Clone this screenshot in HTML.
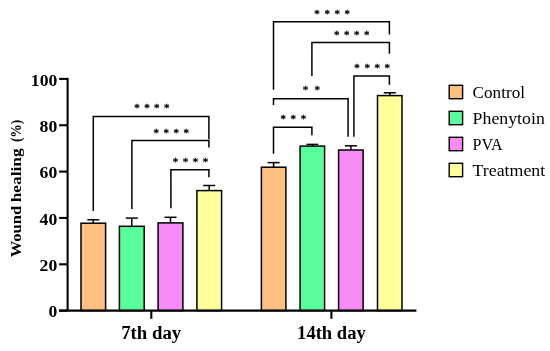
<!DOCTYPE html>
<html><head><meta charset="utf-8"><title>Wound healing</title>
<style>html,body{margin:0;padding:0;background:#fff}svg text{font-family:"Liberation Serif", "DejaVu Serif", serif;fill:#000}</style>
</head><body>
<svg width="550" height="351" viewBox="0 0 550 351" style="display:block">
<rect width="550" height="351" fill="#fff"/>
<line x1="93.3" y1="223.2" x2="93.3" y2="219.8" stroke="#000" stroke-width="1.5"/>
<line x1="87.3" y1="219.8" x2="99.3" y2="219.8" stroke="#000" stroke-width="1.5"/>
<rect x="81.0" y="223.2" width="24.6" height="87.4" fill="#FFC080" stroke="#000" stroke-width="1.5"/>
<line x1="131.8" y1="226.3" x2="131.8" y2="218.1" stroke="#000" stroke-width="1.5"/>
<line x1="125.8" y1="218.1" x2="137.8" y2="218.1" stroke="#000" stroke-width="1.5"/>
<rect x="119.4" y="226.3" width="24.8" height="84.3" fill="#58FE9B" stroke="#000" stroke-width="1.5"/>
<line x1="170.5" y1="222.9" x2="170.5" y2="217.3" stroke="#000" stroke-width="1.5"/>
<line x1="164.5" y1="217.3" x2="176.5" y2="217.3" stroke="#000" stroke-width="1.5"/>
<rect x="158.1" y="222.9" width="24.8" height="87.7" fill="#F78CF9" stroke="#000" stroke-width="1.5"/>
<line x1="209.2" y1="190.6" x2="209.2" y2="185.5" stroke="#000" stroke-width="1.5"/>
<line x1="203.2" y1="185.5" x2="215.2" y2="185.5" stroke="#000" stroke-width="1.5"/>
<rect x="196.9" y="190.6" width="24.7" height="120.0" fill="#FFFF9C" stroke="#000" stroke-width="1.5"/>
<line x1="273.6" y1="167.2" x2="273.6" y2="162.6" stroke="#000" stroke-width="1.5"/>
<line x1="267.6" y1="162.6" x2="279.6" y2="162.6" stroke="#000" stroke-width="1.5"/>
<rect x="261.4" y="167.2" width="24.5" height="143.4" fill="#FFC080" stroke="#000" stroke-width="1.5"/>
<line x1="312.4" y1="146.1" x2="312.4" y2="144.4" stroke="#000" stroke-width="1.5"/>
<line x1="306.4" y1="144.4" x2="318.4" y2="144.4" stroke="#000" stroke-width="1.5"/>
<rect x="300.1" y="146.1" width="24.5" height="164.5" fill="#58FE9B" stroke="#000" stroke-width="1.5"/>
<line x1="350.9" y1="150.0" x2="350.9" y2="145.8" stroke="#000" stroke-width="1.5"/>
<line x1="344.9" y1="145.8" x2="356.9" y2="145.8" stroke="#000" stroke-width="1.5"/>
<rect x="338.6" y="150.0" width="24.5" height="160.6" fill="#F78CF9" stroke="#000" stroke-width="1.5"/>
<line x1="389.8" y1="95.6" x2="389.8" y2="92.8" stroke="#000" stroke-width="1.5"/>
<line x1="383.8" y1="92.8" x2="395.8" y2="92.8" stroke="#000" stroke-width="1.5"/>
<rect x="377.5" y="95.6" width="24.5" height="215.0" fill="#FFFF9C" stroke="#000" stroke-width="1.5"/>
<line x1="67.6" y1="77.85" x2="67.6" y2="310.65" stroke="#000" stroke-width="2.1"/>
<line x1="59.1" y1="310.65" x2="416.4" y2="310.65" stroke="#000" stroke-width="2.3"/>
<line x1="59.1" y1="310.65" x2="67.6" y2="310.65" stroke="#000" stroke-width="2.1"/>
<text x="57.3" y="317.4" text-anchor="end" font-size="16.8" font-weight="bold" textLength="8.8" lengthAdjust="spacingAndGlyphs">0</text>
<line x1="59.1" y1="264.30" x2="67.6" y2="264.30" stroke="#000" stroke-width="2.1"/>
<text x="57.3" y="271.1" text-anchor="end" font-size="16.8" font-weight="bold" textLength="17.7" lengthAdjust="spacingAndGlyphs">20</text>
<line x1="59.1" y1="217.95" x2="67.6" y2="217.95" stroke="#000" stroke-width="2.1"/>
<text x="57.3" y="224.8" text-anchor="end" font-size="16.8" font-weight="bold" textLength="17.7" lengthAdjust="spacingAndGlyphs">40</text>
<line x1="59.1" y1="171.60" x2="67.6" y2="171.60" stroke="#000" stroke-width="2.1"/>
<text x="57.3" y="178.4" text-anchor="end" font-size="16.8" font-weight="bold" textLength="17.7" lengthAdjust="spacingAndGlyphs">60</text>
<line x1="59.1" y1="125.25" x2="67.6" y2="125.25" stroke="#000" stroke-width="2.1"/>
<text x="57.3" y="132.1" text-anchor="end" font-size="16.8" font-weight="bold" textLength="17.7" lengthAdjust="spacingAndGlyphs">80</text>
<line x1="59.1" y1="78.90" x2="67.6" y2="78.90" stroke="#000" stroke-width="2.1"/>
<text x="57.3" y="85.7" text-anchor="end" font-size="16.8" font-weight="bold" textLength="26.5" lengthAdjust="spacingAndGlyphs">100</text>
<line x1="151.3" y1="310.65" x2="151.3" y2="318.84999999999997" stroke="#000" stroke-width="2.1"/>
<line x1="331.4" y1="310.65" x2="331.4" y2="318.84999999999997" stroke="#000" stroke-width="2.1"/>
<text x="151.2" y="338.7" text-anchor="middle" font-size="18" font-weight="bold" textLength="60" lengthAdjust="spacingAndGlyphs">7th day</text>
<text x="331.4" y="338.7" text-anchor="middle" font-size="18" font-weight="bold" textLength="68.6" lengthAdjust="spacingAndGlyphs">14th day</text>
<text transform="translate(21.4,257.3) rotate(-90)" font-size="15.5" font-weight="bold"><tspan x="0" textLength="51.5" lengthAdjust="spacingAndGlyphs">Wound</tspan> <tspan x="55" textLength="54" lengthAdjust="spacingAndGlyphs">healing</tspan> <tspan x="115.2" textLength="22.4" lengthAdjust="spacingAndGlyphs">(%)</tspan></text>
<polyline points="93.3,211 93.3,116.6 208.9,116.6 208.9,139.3" fill="none" stroke="#000" stroke-width="1.5" stroke-linejoin="miter"/>
<polyline points="131.9,209.0 131.9,140.6 208.9,140.6 208.9,147.6" fill="none" stroke="#000" stroke-width="1.5" stroke-linejoin="miter"/>
<polyline points="170.9,208.2 170.9,169.8 208.9,169.8 208.9,177.2" fill="none" stroke="#000" stroke-width="1.5" stroke-linejoin="miter"/>
<polyline points="273.5,89.8 273.5,21.8 389.4,21.8 389.4,34.4" fill="none" stroke="#000" stroke-width="1.5" stroke-linejoin="miter"/>
<polyline points="311.9,75.9 311.9,42.4 389.4,42.4 389.4,53.8" fill="none" stroke="#000" stroke-width="1.5" stroke-linejoin="miter"/>
<polyline points="353.9,136.7 353.9,76.0 389.4,76.0 389.4,84.8" fill="none" stroke="#000" stroke-width="1.5" stroke-linejoin="miter"/>
<polyline points="273.5,105.1 273.5,98.8 348.1,98.8 348.1,136.7" fill="none" stroke="#000" stroke-width="1.5" stroke-linejoin="miter"/>
<polyline points="273.5,153.7 273.5,127.2 311.9,127.2 311.9,135.3" fill="none" stroke="#000" stroke-width="1.5" stroke-linejoin="miter"/>
<text x="136.9" y="111.1" text-anchor="middle" font-size="9.5" font-weight="bold" stroke="#000" stroke-width="0.3" style="font-family:'DejaVu Sans',sans-serif">*</text>
<text x="146.9" y="111.1" text-anchor="middle" font-size="9.5" font-weight="bold" stroke="#000" stroke-width="0.3" style="font-family:'DejaVu Sans',sans-serif">*</text>
<text x="156.8" y="111.1" text-anchor="middle" font-size="9.5" font-weight="bold" stroke="#000" stroke-width="0.3" style="font-family:'DejaVu Sans',sans-serif">*</text>
<text x="166.8" y="111.1" text-anchor="middle" font-size="9.5" font-weight="bold" stroke="#000" stroke-width="0.3" style="font-family:'DejaVu Sans',sans-serif">*</text>
<text x="156.2" y="135.7" text-anchor="middle" font-size="9.5" font-weight="bold" stroke="#000" stroke-width="0.3" style="font-family:'DejaVu Sans',sans-serif">*</text>
<text x="166.2" y="135.7" text-anchor="middle" font-size="9.5" font-weight="bold" stroke="#000" stroke-width="0.3" style="font-family:'DejaVu Sans',sans-serif">*</text>
<text x="176.2" y="135.7" text-anchor="middle" font-size="9.5" font-weight="bold" stroke="#000" stroke-width="0.3" style="font-family:'DejaVu Sans',sans-serif">*</text>
<text x="186.2" y="135.7" text-anchor="middle" font-size="9.5" font-weight="bold" stroke="#000" stroke-width="0.3" style="font-family:'DejaVu Sans',sans-serif">*</text>
<text x="175.4" y="164.6" text-anchor="middle" font-size="9.5" font-weight="bold" stroke="#000" stroke-width="0.3" style="font-family:'DejaVu Sans',sans-serif">*</text>
<text x="185.4" y="164.6" text-anchor="middle" font-size="9.5" font-weight="bold" stroke="#000" stroke-width="0.3" style="font-family:'DejaVu Sans',sans-serif">*</text>
<text x="195.5" y="164.6" text-anchor="middle" font-size="9.5" font-weight="bold" stroke="#000" stroke-width="0.3" style="font-family:'DejaVu Sans',sans-serif">*</text>
<text x="205.4" y="164.6" text-anchor="middle" font-size="9.5" font-weight="bold" stroke="#000" stroke-width="0.3" style="font-family:'DejaVu Sans',sans-serif">*</text>
<text x="317.1" y="17.1" text-anchor="middle" font-size="9.5" font-weight="bold" stroke="#000" stroke-width="0.3" style="font-family:'DejaVu Sans',sans-serif">*</text>
<text x="327.2" y="17.1" text-anchor="middle" font-size="9.5" font-weight="bold" stroke="#000" stroke-width="0.3" style="font-family:'DejaVu Sans',sans-serif">*</text>
<text x="337.2" y="17.1" text-anchor="middle" font-size="9.5" font-weight="bold" stroke="#000" stroke-width="0.3" style="font-family:'DejaVu Sans',sans-serif">*</text>
<text x="347.3" y="17.1" text-anchor="middle" font-size="9.5" font-weight="bold" stroke="#000" stroke-width="0.3" style="font-family:'DejaVu Sans',sans-serif">*</text>
<text x="336.8" y="37.7" text-anchor="middle" font-size="9.5" font-weight="bold" stroke="#000" stroke-width="0.3" style="font-family:'DejaVu Sans',sans-serif">*</text>
<text x="346.8" y="37.7" text-anchor="middle" font-size="9.5" font-weight="bold" stroke="#000" stroke-width="0.3" style="font-family:'DejaVu Sans',sans-serif">*</text>
<text x="356.8" y="37.7" text-anchor="middle" font-size="9.5" font-weight="bold" stroke="#000" stroke-width="0.3" style="font-family:'DejaVu Sans',sans-serif">*</text>
<text x="366.8" y="37.7" text-anchor="middle" font-size="9.5" font-weight="bold" stroke="#000" stroke-width="0.3" style="font-family:'DejaVu Sans',sans-serif">*</text>
<text x="357.1" y="70.8" text-anchor="middle" font-size="9.5" font-weight="bold" stroke="#000" stroke-width="0.3" style="font-family:'DejaVu Sans',sans-serif">*</text>
<text x="367.2" y="70.8" text-anchor="middle" font-size="9.5" font-weight="bold" stroke="#000" stroke-width="0.3" style="font-family:'DejaVu Sans',sans-serif">*</text>
<text x="377.2" y="70.8" text-anchor="middle" font-size="9.5" font-weight="bold" stroke="#000" stroke-width="0.3" style="font-family:'DejaVu Sans',sans-serif">*</text>
<text x="387.2" y="70.8" text-anchor="middle" font-size="9.5" font-weight="bold" stroke="#000" stroke-width="0.3" style="font-family:'DejaVu Sans',sans-serif">*</text>
<text x="305.6" y="93.1" text-anchor="middle" font-size="9.5" font-weight="bold" stroke="#000" stroke-width="0.3" style="font-family:'DejaVu Sans',sans-serif">*</text>
<text x="317.3" y="93.1" text-anchor="middle" font-size="9.5" font-weight="bold" stroke="#000" stroke-width="0.3" style="font-family:'DejaVu Sans',sans-serif">*</text>
<text x="283.2" y="122.2" text-anchor="middle" font-size="9.5" font-weight="bold" stroke="#000" stroke-width="0.3" style="font-family:'DejaVu Sans',sans-serif">*</text>
<text x="293.3" y="122.2" text-anchor="middle" font-size="9.5" font-weight="bold" stroke="#000" stroke-width="0.3" style="font-family:'DejaVu Sans',sans-serif">*</text>
<text x="303.5" y="122.2" text-anchor="middle" font-size="9.5" font-weight="bold" stroke="#000" stroke-width="0.3" style="font-family:'DejaVu Sans',sans-serif">*</text>
<rect x="449.2" y="85.3" width="13.4" height="13.4" fill="#FFC080" stroke="#000" stroke-width="1.4"/>
<text x="472.6" y="97.6" font-size="15.9" textLength="52.4" lengthAdjust="spacingAndGlyphs">Control</text>
<rect x="449.2" y="111.3" width="13.4" height="13.4" fill="#58FE9B" stroke="#000" stroke-width="1.4"/>
<text x="472.6" y="123.6" font-size="15.9" textLength="72.2" lengthAdjust="spacingAndGlyphs">Phenytoin</text>
<rect x="449.2" y="137.3" width="13.4" height="13.4" fill="#F78CF9" stroke="#000" stroke-width="1.4"/>
<text x="472.6" y="149.6" font-size="15.9" textLength="30" lengthAdjust="spacingAndGlyphs">PVA</text>
<rect x="449.2" y="163.3" width="13.4" height="13.4" fill="#FFFF9C" stroke="#000" stroke-width="1.4"/>
<text x="472.6" y="175.6" font-size="15.9" textLength="72.6" lengthAdjust="spacingAndGlyphs">Treatment</text>
</svg>
</body></html>
